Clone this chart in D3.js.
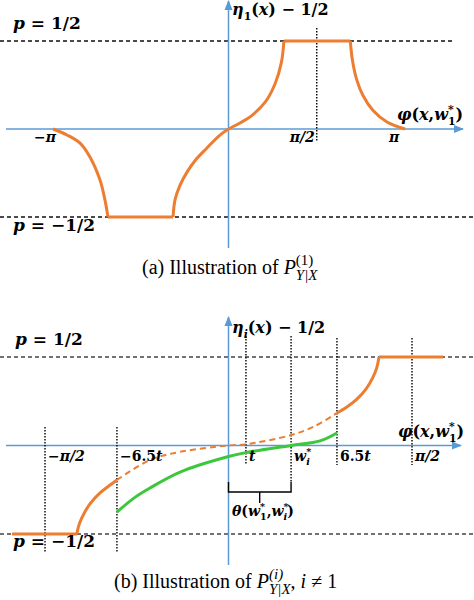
<!DOCTYPE html>
<html>
<head>
<meta charset="utf-8">
<script src="https://cdn.jsdelivr.net/npm/d3@7"></script>
<style>
  body { margin: 0; background: #fff; }
  svg { display: block; }
</style>
</head>
<body>
<svg width="474" height="600"></svg>
<script>
// ---- data (x in units of pi for panel a, pi/2 for panel b; y = eta - 1/2) ----
const topDropLeft  = [[-0.994, 0], [-0.915, -0.034], [-0.841, -0.080], [-0.785, -0.159], [-0.728, -0.290], [-0.700, -0.403], [-0.683, -0.5]];
const topRise      = [[-0.314, -0.5], [-0.303, -0.403], [-0.275, -0.320], [-0.235, -0.245], [-0.190, -0.180], [-0.122, -0.108], [-0.055, -0.040], [0, 0],
                      [0.065, 0.034], [0.130, 0.075], [0.210, 0.155], [0.265, 0.260], [0.300, 0.380], [0.314, 0.5]];
const topDropRight = [[0.690, 0.5], [0.702, 0.392], [0.725, 0.285], [0.762, 0.190], [0.819, 0.105], [0.898, 0.040], [1.0, 0]];
const topFlats     = [[[-0.683, -0.5], [-0.314, -0.5]], [[0.314, 0.5], [0.690, 0.5]]];
const topTicks     = [{v: -1, label: "−π"}, {v: 0.5, label: "π/2"}, {v: 1, label: "π"}];

const botLeftRise  = [[-0.826, -0.5], [-0.818, -0.460], [-0.800, -0.410], [-0.755, -0.330], [-0.700, -0.268], [-0.608, -0.195]];
const botDashed    = [[-0.608, -0.195], [-0.428, -0.082], [-0.264, -0.036], [0, 0], [0.090, 0.006], [0.341, 0.059], [0.462, 0.105], [0.591, 0.184]];
const botRightRise = [[0.591, 0.184], [0.645, 0.218], [0.700, 0.262], [0.750, 0.320], [0.787, 0.385], [0.809, 0.443], [0.820, 0.5]];
const botFlats     = [[[-1.18, -0.5], [-0.826, -0.5]], [[0.820, 0.5], [1.169, 0.5]]];
const botGreen     = [[-0.608, -0.376], [-0.510, -0.293], [-0.428, -0.240], [-0.264, -0.150], [0, -0.062], [0.095, -0.040], [0.341, 0], [0.499, 0.026], [0.591, 0.071]];
const botTicks     = [{v: -1, label: "−π/2"}, {v: -0.608, label: "−6.5t"}, {v: 0.095, label: "t"}, {v: 0.341, label: "wi*"}, {v: 0.591, label: "6.5t"}, {v: 1, label: "π/2"}];

const ORANGE = "#ED7D31", GREEN = "#3CC83C", BLUE = "#5B9BD5";
const MATH = "'DejaVu Serif', serif";
const svg = d3.select("svg");

// arrow marker for the axes
svg.append("defs").append("marker")
    .attr("id", "arr").attr("viewBox", "0 0 10 10")
    .attr("refX", 9).attr("refY", 5)
    .attr("markerWidth", 7).attr("markerHeight", 7)
    .attr("orient", "auto-start-reverse")
  .append("path").attr("d", "M0,1 L10,5 L0,9 z").attr("fill", BLUE);

// writes a text made of pieces; piece: {t, i: italic, sub, sup, back: overlap previous piece}
function mathText(g, x, y, parts, size, family, weight, small) {
    const txt = g.append("text")
        .attr("x", x).attr("y", y)
        .attr("font-family", family)
        .attr("font-size", size)
        .attr("font-weight", weight);
    let cur = 0, prev = null;
    parts.forEach(p => {
        const target = p.sub ? size * 0.3 : p.sup ? -size * 0.45 : 0;
        const s = txt.append("tspan")
            .attr("dy", target - cur)
            .attr("font-style", p.i ? "italic" : "normal")
            .attr("font-size", (p.sub || p.sup) ? size * (small || 0.68) : size)
            .text(p.t);
        if (p.back && prev) s.attr("dx", -prev.node().getComputedTextLength());
        cur = target;
        prev = s;
    });
    return txt;
}

function drawPanel(cfg) {
    const g = svg.append("g");
    const x = d3.scaleLinear().domain([-1, 1]).range(cfg.xRange);
    const y = d3.scaleLinear().domain([-0.5, 0.5]).range(cfg.yRange);

    // p = ±1/2 dashed guides
    [0.5, -0.5].forEach((v, k) => {
        g.append("line")
            .attr("x1", 0).attr("x2", cfg.dashEnd[k])
            .attr("y1", y(v)).attr("y2", y(v))
            .attr("stroke", cfg.dashColor).attr("stroke-width", 1.3)
            .attr("stroke-dasharray", "4,3");
    });

    // axes
    g.append("line")
        .attr("x1", 6).attr("x2", cfg.xAxisEnd)
        .attr("y1", y(0)).attr("y2", y(0))
        .attr("stroke", BLUE).attr("stroke-width", 1.5)
        .attr("marker-end", "url(#arr)");
    g.append("line")
        .attr("x1", x(0)).attr("x2", x(0))
        .attr("y1", cfg.yAxisSpan[1]).attr("y2", cfg.yAxisSpan[0])
        .attr("stroke", BLUE).attr("stroke-width", 1.5)
        .attr("marker-end", "url(#arr)");

    // dotted verticals
    cfg.dotted.forEach(d => {
        g.append("line")
            .attr("x1", x(d.v)).attr("x2", x(d.v))
            .attr("y1", d.y0).attr("y2", d.y1)
            .attr("stroke", "#000").attr("stroke-width", 1.4)
            .attr("stroke-dasharray", "1.5,1.5");
    });

    const curve = d3.line().x(d => x(d[0])).y(d => y(d[1])).curve(d3.curveCatmullRom.alpha(0.5));
    const straight = d3.line().x(d => x(d[0])).y(d => y(d[1]));

    cfg.curves.forEach(c => {
        g.append("path")
            .attr("d", (c.flat ? straight : curve)(c.data))
            .attr("fill", "none")
            .attr("stroke", c.color)
            .attr("stroke-width", c.dash ? 2 : 3)
            .attr("stroke-dasharray", c.dash ? "6,4" : null)
            .attr("stroke-linecap", "butt");
    });

    return {g, x, y};
}

// ---------------- panel (a) ----------------
const a = drawPanel({
    xRange: [52, 405], yRange: [217, 41],
    dashEnd: [455, 474], dashColor: "#111",
    xAxisEnd: 463, yAxisSpan: [1, 248],
    dotted: [{v: 0.5, y0: 28, y1: 142}],
    curves: [
        {data: topDropLeft, color: ORANGE},
        {data: topRise, color: ORANGE},
        {data: topDropRight, color: ORANGE},
        ...topFlats.map(f => ({data: f, color: ORANGE, flat: true}))
    ]
});

mathText(a.g, 13, 29, [{t: "p", i: 1}, {t: " = 1/2"}], 17, MATH, "bold");
mathText(a.g, 13, 231, [{t: "p", i: 1}, {t: " = −1/2"}], 17, MATH, "bold");
mathText(a.g, 232, 15, [{t: "η", i: 1}, {t: "1", sub: 1}, {t: "("}, {t: "x", i: 1}, {t: ") − 1/2"}], 16, MATH, "bold");
mathText(a.g, 397, 120, [{t: "φ", i: 1}, {t: "("}, {t: "x", i: 1}, {t: ","}, {t: "w", i: 1}, {t: "*", sup: 1}, {t: "1", sub: 1, back: 1}, {t: ")"}], 16, MATH, "bold");

const topTickX = {"−π": -18, "π/2": -27, "π": -16};
topTicks.forEach(d => {
    mathText(a.g, a.x(d.v) + topTickX[d.label], 142, [{t: d.label, i: 1}], 14, MATH, "bold");
});

mathText(a.g, 142, 274, [{t: "(a) Illustration of "}, {t: "P", i: 1}, {t: "(1)", sup: 1}, {t: "Y|X", sub: 1, i: 1, back: 1}], 20, "'Liberation Serif', serif", "normal", 0.75);

// ---------------- panel (b) ----------------
const b = drawPanel({
    xRange: [45, 412], yRange: [534, 357],
    dashEnd: [474, 474], dashColor: "#444",
    xAxisEnd: 461, yAxisSpan: [317, 565],
    dotted: [
        {v: -1, y0: 427, y1: 553}, {v: -0.608, y0: 427, y1: 553},
        {v: 0.095, y0: 336, y1: 465}, {v: 0.341, y0: 336, y1: 483},
        {v: 0.591, y0: 338, y1: 465}, {v: 1, y0: 338, y1: 465}
    ],
    curves: [
        ...botFlats.map(f => ({data: f, color: ORANGE, flat: true})),
        {data: botLeftRise, color: ORANGE},
        {data: botRightRise, color: ORANGE},
        {data: botDashed, color: ORANGE, dash: true},
        {data: botGreen, color: GREEN}
    ]
});

mathText(b.g, 15, 345, [{t: "p", i: 1}, {t: " = 1/2"}], 17, MATH, "bold");
mathText(b.g, 13, 547, [{t: "p", i: 1}, {t: " = −1/2"}], 17, MATH, "bold");
mathText(b.g, 232, 333, [{t: "η", i: 1}, {t: "i", sub: 1, i: 1}, {t: "("}, {t: "x", i: 1}, {t: ") − 1/2"}], 16, MATH, "bold");
mathText(b.g, 398, 437, [{t: "φ", i: 1}, {t: "("}, {t: "x", i: 1}, {t: ","}, {t: "w", i: 1}, {t: "*", sup: 1}, {t: "1", sub: 1, back: 1}, {t: ")"}], 16, MATH, "bold");

botTicks.forEach(d => {
    const parts = d.label === "wi*"
        ? [{t: "w", i: 1}, {t: "*", sup: 1}, {t: "i", sub: 1, i: 1, back: 1}]
        : d.label.endsWith("t")
            ? [{t: d.label.slice(0, -1)}, {t: "t", i: 1}]
            : [{t: d.label, i: 1}];
    mathText(b.g, b.x(d.v) + 3, 461, parts, 14, MATH, "bold");
});

// brace for theta(w1*, wi*)
const bx0 = b.x(0), bx1 = b.x(0.341), bm = b.x(0.17);
b.g.append("path")
    .attr("d", `M${bx0},482 V492 H${bx1} V482 M${bm},492 V503`)
    .attr("fill", "none").attr("stroke", "#000").attr("stroke-width", 1.4);
mathText(b.g, 232, 516, [{t: "θ", i: 1}, {t: "("}, {t: "w", i: 1}, {t: "*", sup: 1}, {t: "1", sub: 1, back: 1}, {t: ","}, {t: "w", i: 1}, {t: "*", sup: 1}, {t: "i", sub: 1, i: 1, back: 1}, {t: ")"}], 14, MATH, "bold");

mathText(b.g, 114, 588, [{t: "(b) Illustration of "}, {t: "P", i: 1}, {t: "(i)", sup: 1, i: 1}, {t: "Y|X", sub: 1, i: 1, back: 1}, {t: ", "}, {t: "i", i: 1}, {t: " ≠ 1"}], 20, "'Liberation Serif', serif", "normal", 0.75);
</script>
</body>
</html>
